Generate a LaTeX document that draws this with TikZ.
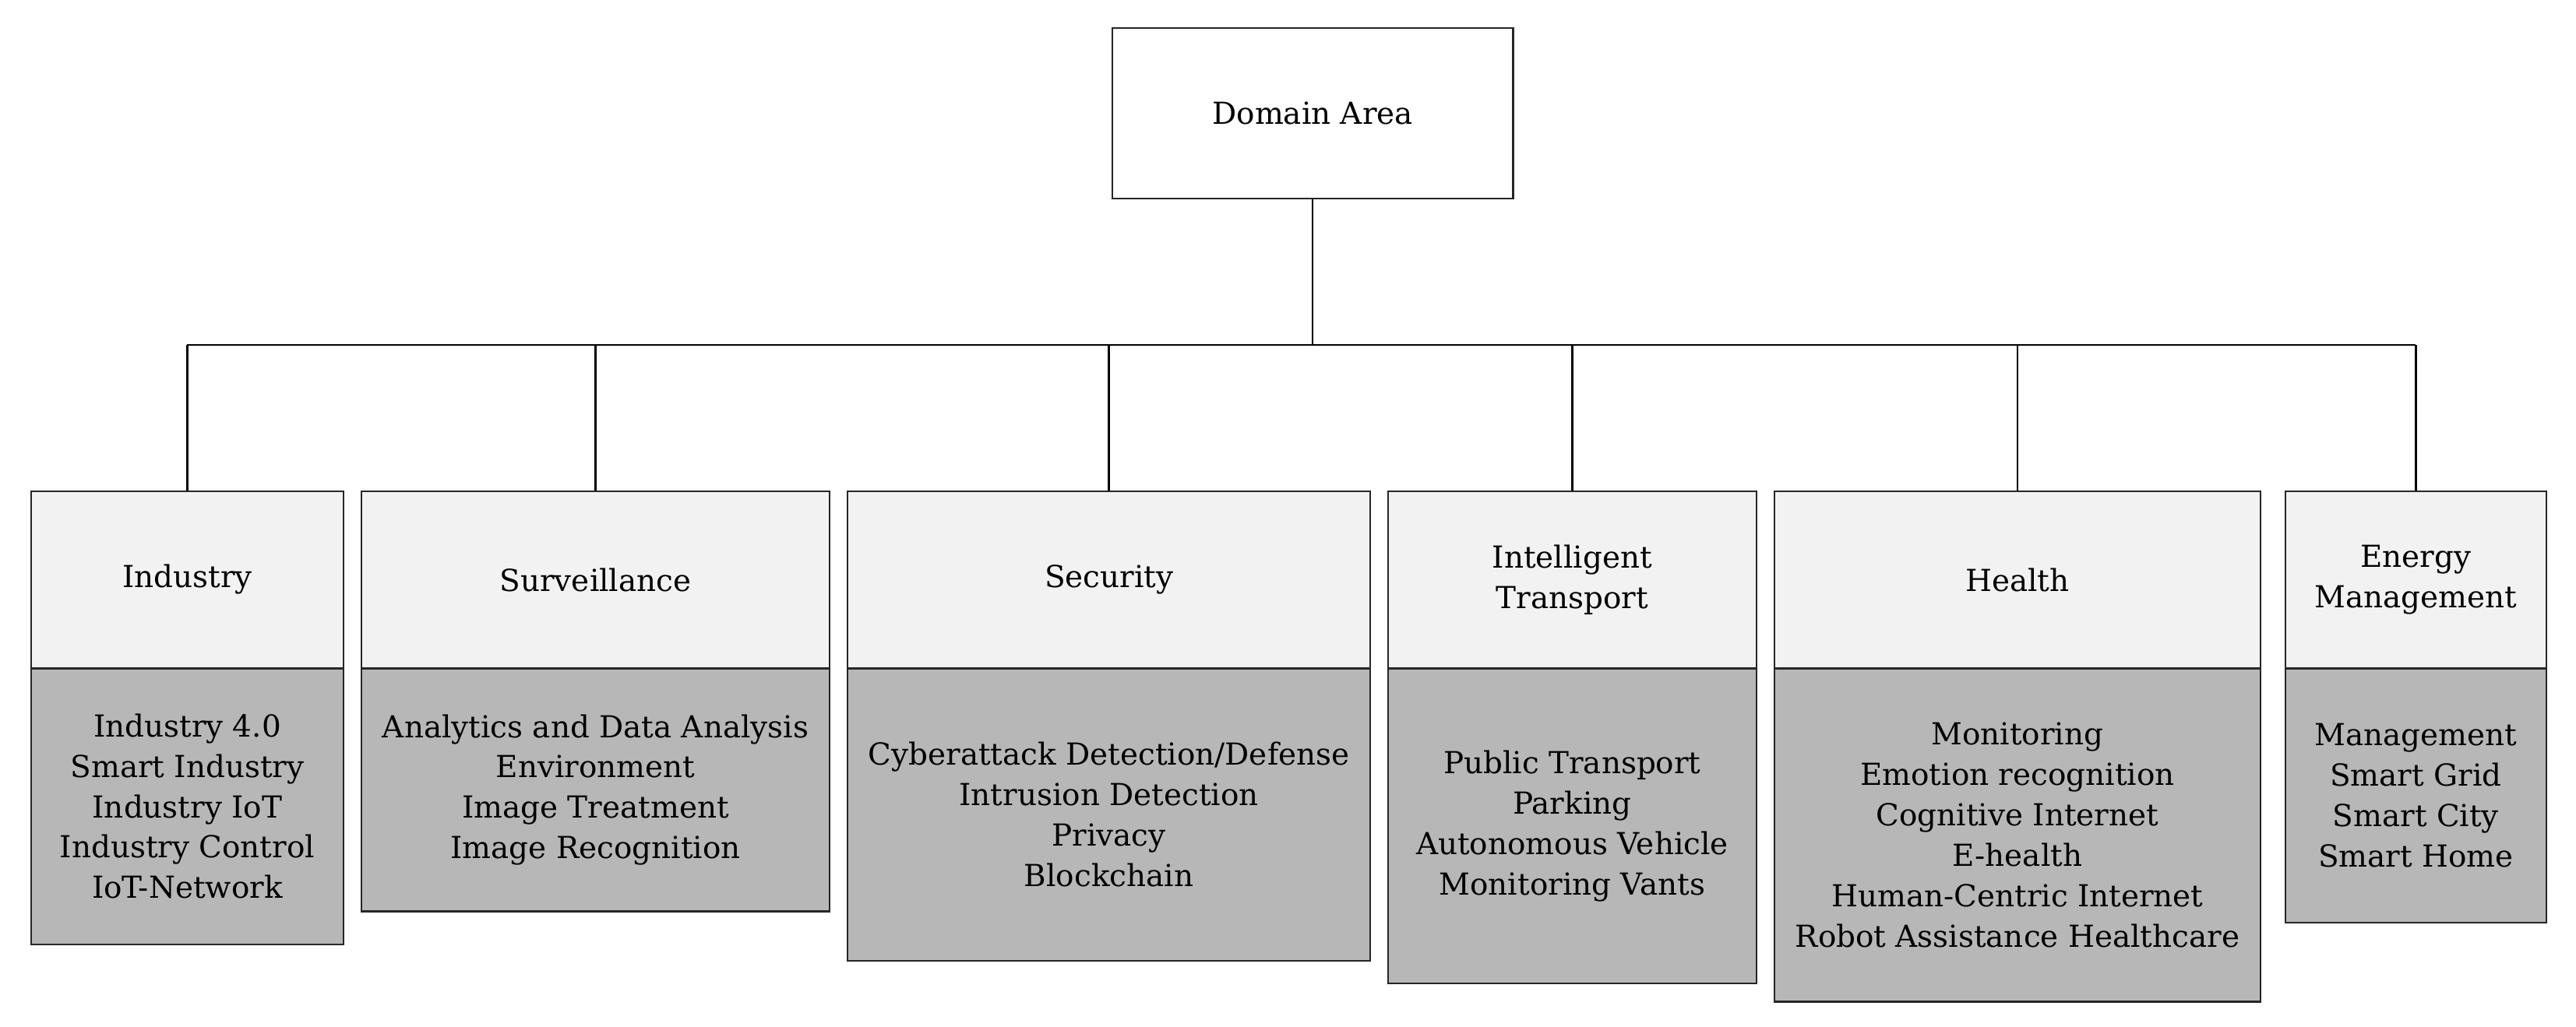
\documentclass[tikz,border=0pt]{standalone}
\usepackage{fontspec}
\setmainfont{DejaVu Serif}
\definecolor{hd}{HTML}{F2F2F2}
\definecolor{bd}{HTML}{B7B7B7}
\begin{document}
\begin{tikzpicture}[x=0.02cm,y=-0.02cm,
  box/.style={draw=black!85,line width=0.6pt,inner sep=0pt,align=center,font=\fontsize{10.5}{14}\selectfont},
  ln/.style={draw=black,line width=0.7pt}]
\useasboundingbox (0,0) rectangle (1568,625);
\newcommand\catbox[6]{%
  \node[box,fill=hd,minimum width={(#3-#2)*0.02cm},minimum height=2.16cm] (#1h) at ({(#2+#3)/2},353) {#5};
  \node[box,fill=bd,minimum width={(#3-#2)*0.02cm},minimum height={(#4-407)*0.02cm}] (#1b) at ({(#2+#3)/2},{(#4+407)/2}) {#6};
  \coordinate (#1t) at ({(#2+#3)/2},210);
  \draw[ln] (#1t) -- (#1h.north);}
\node[box,fill=white,minimum width=4.88cm,minimum height=2.08cm] (dom) at (799,69) {Domain Area};
\coordinate (bus) at (799,210);
\draw[ln] (dom.south) -- (bus);
\catbox{ind}{19}{209}{575}{Industry}{Industry 4.0\\Smart Industry\\Industry IoT\\Industry Control\\IoT-Network}
\catbox{sur}{220}{505}{555}{Surveillance}{Analytics and Data Analysis\\Environment\\Image Treatment\\Image Recognition}
\catbox{sec}{516}{834}{585}{Security}{Cyberattack Detection/Defense\\Intrusion Detection\\Privacy\\Blockchain}
\catbox{tra}{845}{1069}{599}{Intelligent\\Transport}{Public Transport\\Parking\\Autonomous Vehicle\\Monitoring Vants}
\catbox{hea}{1080}{1376}{610}{Health}{Monitoring\\Emotion recognition\\Cognitive Internet\\E-health\\Human-Centric Internet\\Robot Assistance Healthcare}
\catbox{ene}{1391}{1550}{562}{Energy\\Management}{Management\\Smart Grid\\Smart City\\Smart Home}
\draw[ln] (indt) -- (enet);
\end{tikzpicture}
\end{document}
